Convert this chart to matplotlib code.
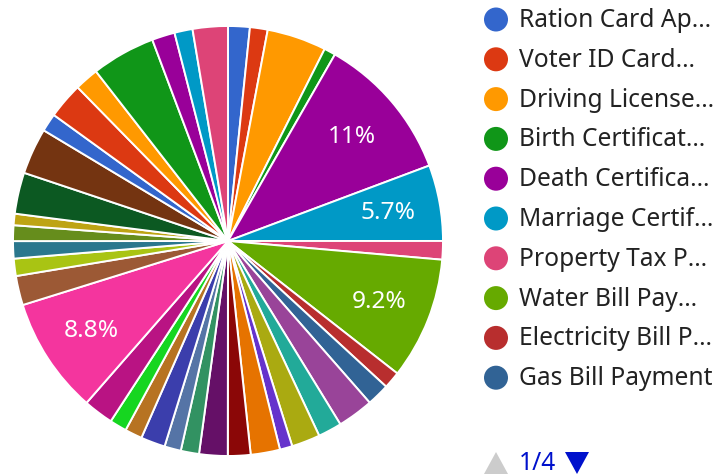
import matplotlib
matplotlib.use("Agg")
import matplotlib.pyplot as plt
from matplotlib.patches import Circle, Polygon

# slice values (share of applications, %), clockwise from 12 o'clock
services = [
    "Ration Card Application", "Voter ID Card Registration", "Driving License Renewal",
    "Birth Certificate Request", "Death Certificate Request", "Marriage Certificate",
    "Property Tax Payment", "Water Bill Payment", "Electricity Bill Payment",
    "Gas Bill Payment", "Passport Application", "PAN Card Application",
    "Aadhaar Update", "Caste Certificate", "Income Certificate",
    "Domicile Certificate", "Pension Application", "Scholarship Application",
    "Building Permit", "Trade License", "Vehicle Registration",
    "Land Record Request", "Police Verification", "Public Grievance",
    "Ration Card Update", "Arms License", "Shop Registration",
    "Senior Citizen Card", "Disability Certificate", "Encumbrance Certificate",
    "Mutation Request", "Solvency Certificate", "Character Certificate",
    "Legal Heir Certificate", "Fire NOC", "Event Permission",
    "Water Connection", "Sewage Connection",
]
values = [
    1.63, 1.33, 4.46, 0.86, 11.0, 5.7, 1.39, 9.17, 1.28, 1.7,
    2.7, 1.78, 2.14, 0.94, 2.2, 1.7, 2.14, 1.37, 1.24, 1.83,
    1.3, 1.28, 2.25, 8.75, 2.2, 1.3, 1.3, 1.18, 0.86, 3.1,
    3.47, 1.36, 2.7, 1.8, 4.8, 1.72, 1.36, 2.64,
]
palette = [
    "#3366cc", "#dc3912", "#ff9900", "#109618", "#990099", "#0099c6",
    "#dd4477", "#66aa00", "#b82e2e", "#316395", "#994499", "#22aa99",
    "#aaaa11", "#6633cc", "#e67300", "#8b0707", "#651067", "#329262",
    "#5574a6", "#3b3eac", "#b77322", "#16d620", "#b91383", "#f4359e",
    "#9c5935", "#a9c413", "#2a778d", "#668d1c", "#bea413", "#0c5922",
    "#743411",
]
legend_labels = [
    "Ration Card Ap\u2026", "Voter ID Card\u2026", "Driving License\u2026",
    "Birth Certificat\u2026", "Death Certifica\u2026", "Marriage Certif\u2026",
    "Property Tax P\u2026", "Water Bill Pay\u2026", "Electricity Bill P\u2026",
    "Gas Bill Payment",
]
page, pages = 1, 4

W, H = 713, 477
plt.rcParams["font.family"] = ["Noto Sans", "DejaVu Sans"]
fig = plt.figure(figsize=(W / 100, H / 100), dpi=100)

colors = [palette[i % len(palette)] for i in range(len(values))]
cx, cy, r = 228, 242, 215
ax = fig.add_axes([(cx - r) / W, (H - cy - r) / H, 2 * r / W, 2 * r / H])


def pct_text(p):
    return f"{p:.2g}%" if p >= 5 else ""


wedges, texts, autotexts = ax.pie(
    values, colors=colors, startangle=90, counterclock=False,
    autopct=pct_text, pctdistance=0.757,
    wedgeprops=dict(edgecolor="white", linewidth=1.4),
    textprops=dict(color="white", fontsize=17.6),
)
ax.set_xlim(-1.0, 1.0)
ax.set_ylim(-1.0, 1.0)
ax.set_aspect("equal")
ax.axis("off")

# legend, drawn in pixel coordinates
lg = fig.add_axes([0, 0, 1, 1])
lg.set_xlim(0, W)
lg.set_ylim(H, 0)
lg.axis("off")
lg.patch.set_alpha(0)
for i, lab in enumerate(legend_labels):
    y = 20.5 + i * 39.8
    lg.add_patch(Circle((496, y), 12, color=colors[i], lw=0))
    lg.text(519, y, lab, fontsize=17.7, color="#222222", va="center", ha="left")

py = 464
lg.add_patch(Polygon([(484, py + 11), (508, py + 11), (496, py - 11)], color="#cccccc", lw=0))
lg.text(519, py, f"{page}/{pages}", fontsize=17.7, color="#0011cc", va="center", ha="left")
lg.add_patch(Polygon([(565, py - 11), (589, py - 11), (577, py + 11)], color="#0011cc", lw=0))

fig.savefig("out.png", dpi=100)
